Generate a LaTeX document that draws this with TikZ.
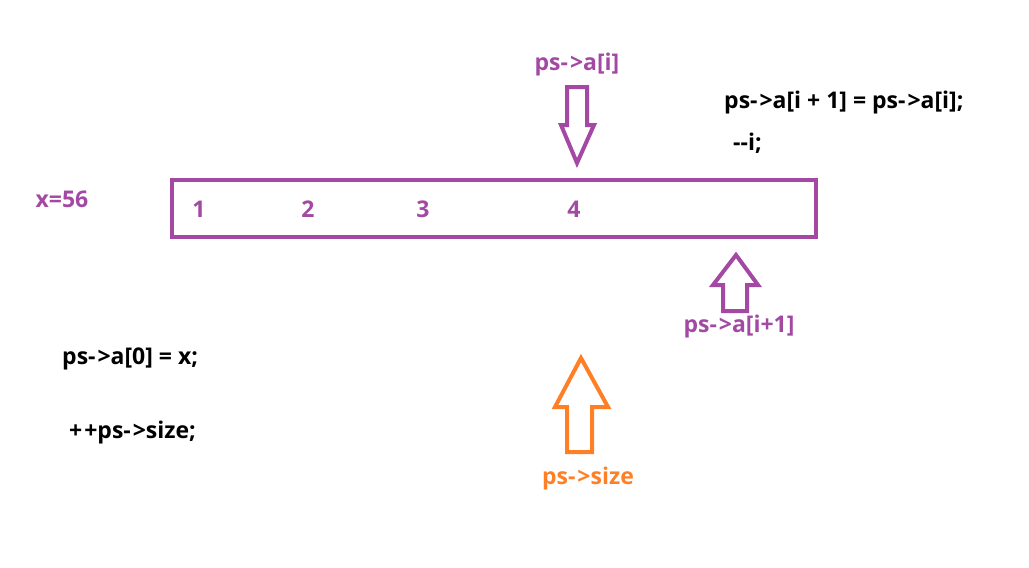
\documentclass[tikz,border=0pt]{standalone}
\usepackage{fontspec}
\usepackage{xcolor}
\usepackage{tikz}
\usetikzlibrary{positioning, calc}
\newfontfamily\codefont{Open Sans}
\definecolor{arrpurple}{HTML}{A349A4}
\definecolor{arrorange}{HTML}{FF7F27}
\newcommand{\ptrto}{-\kern2pt>}

\begin{document}
\begin{tikzpicture}[x=1pt, y=-1pt,
    every node/.style={font=\codefont\bfseries\fontsize{23}{27}\selectfont, inner sep=0pt},
    purpletext/.style={text=arrpurple},
    orangetext/.style={text=arrorange},
    codetext/.style={text=black, anchor=west},
    hollow/.style={line width=4pt, line join=miter}]
\useasboundingbox (0,0) rectangle (1029,568);

% the array
\draw[arrpurple, line width=4pt] (172,180) rectangle (816,237);
\node[purpletext] (v1) at (199,209) {1};
\node[purpletext] (v2) at (308,209) {2};
\node[purpletext] (v3) at (423,209) {3};
\node[purpletext] (v4) at (574,209) {4};
\node[purpletext] (xval) at (62,199) {x=56};

% pointer to a[i]
\node[purpletext] (ai) at (577,65) {ps\ptrto a[i]};
\draw[hollow, arrpurple] (567,87) -- (587,87) -- (587,125) -- (594,125) -- (577,163)
    -- (561,125) -- (567,125) -- cycle;

% pointer to a[i+1]
\node[purpletext] (ainext) at (739,327) {ps\ptrto a[i+1]};
\draw[hollow, arrpurple] (723,311) -- (747,311) -- (747,285) -- (758,285) -- (736,255)
    -- (713,285) -- (723,285) -- cycle;

% pointer to size
\node[orangetext] (size) at (588,479) {ps\ptrto size};
\draw[hollow, arrorange] (567,452) -- (592,452) -- (592,407) -- (608,407) -- (581,358)
    -- (555,407) -- (567,407) -- cycle;

% code
\node[codetext] (move) at (724,103) {ps\ptrto a[i + 1] = ps\ptrto a[i];};
\node[codetext] (dec) at (733,143) {-{}-i;};
\node[codetext] (set) at (62,359) {ps\ptrto a[0] = x;};
\node[codetext] (inc) at (69,433) {+\kern2pt+ps\ptrto size;};
\end{tikzpicture}
\end{document}
